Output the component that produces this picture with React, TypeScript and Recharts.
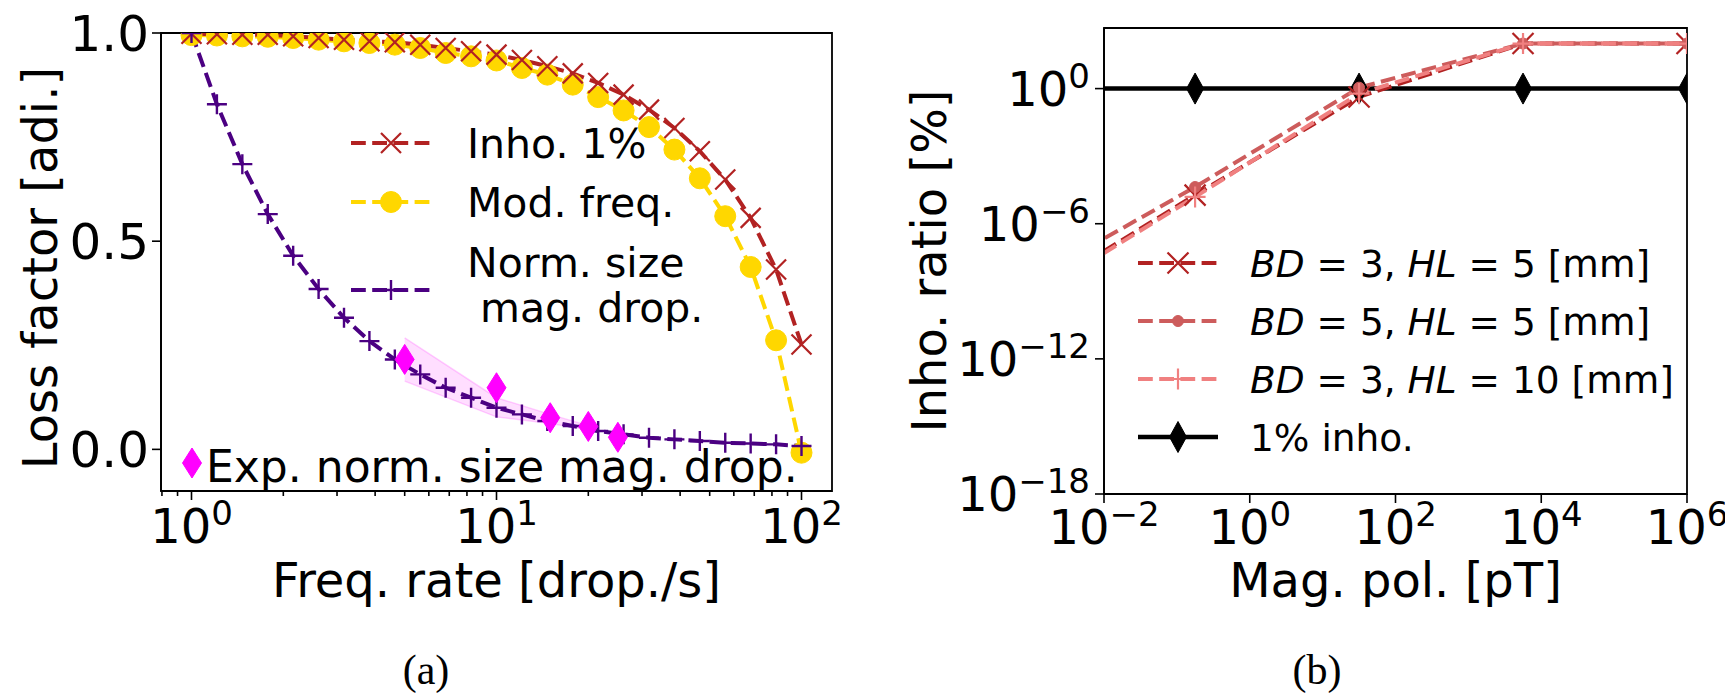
import React from "react";
import { ComposedChart, Line, Area, XAxis, YAxis, ReferenceArea } from "recharts";

// ---- (a) loss factor vs. frequency rate ----
const freqRate = [
  1, 1.2115, 1.4678, 1.7783, 2.1544, 2.6102, 3.1623, 3.8312, 4.6416, 5.6234,
  6.8129, 8.254, 10, 12.115, 14.678, 17.783, 21.544, 26.102, 31.623, 38.312,
  46.416, 56.234, 68.129, 82.54, 100,
];
const inhoLoss = [
  0.998, 0.997, 0.996, 0.996, 0.992, 0.988, 0.984, 0.98, 0.978, 0.972, 0.964,
  0.956, 0.948, 0.935, 0.92, 0.903, 0.88, 0.852, 0.816, 0.772, 0.716, 0.648,
  0.556, 0.432, 0.252,
];
const modFreqLoss = [
  0.995, 0.994, 0.992, 0.991, 0.988, 0.984, 0.98, 0.976, 0.972, 0.964, 0.952,
  0.944, 0.934, 0.916, 0.9, 0.876, 0.846, 0.814, 0.774, 0.72, 0.651, 0.56,
  0.438, 0.262, -0.008,
];
const normSizeLoss = [
  1.0, 0.829, 0.685, 0.565, 0.465, 0.385, 0.316, 0.26, 0.216, 0.18, 0.148,
  0.124, 0.1, 0.084, 0.068, 0.056, 0.044, 0.036, 0.028, 0.024, 0.02, 0.016,
  0.014, 0.012, 0.008,
];
const expRate = [5, 10, 15, 20, 25];
const expLoss = [0.216, 0.148, 0.076, 0.055, 0.029];
const bandRate = [5, 10, 15, 20];
const bandLow = [0.164, 0.078, 0.062, 0.047];
const bandHigh = [0.268, 0.124, 0.084, 0.057];

const lossTicks = [0, 0.5, 1];
const freqMajor = [1, 10, 100];
const freqMinor = [0.8, 0.9, 2, 3, 4, 5, 6, 7, 8, 9, 20, 30, 40, 50, 60, 70, 80, 90];

// ---- (b) inhomogeneity ratio vs. magnetic polarisation ----
const magPol = [0.001, 0.1778, 31.62, 5623, 1000000];
const ratioBd3Hl5 = [6.3e-10, 1.86e-5, 0.427, 100, 100];
const ratioBd5Hl5 = [3.2e-9, 4.27e-5, 1.1, 100, 100];
const ratioBd3Hl10 = [5.0e-10, 1.55e-5, 0.6, 100, 100];
const onePercentInho = [1, 1, 1, 1, 1];

const magTicks = [1e-2, 1, 1e2, 1e4, 1e6];
const ratioTicks = [1e-18, 1e-12, 1e-6, 1];

const FONT = "DejaVu Sans, Noto Sans, sans-serif";
const DASH = "14.8 6.4";

const pts = (xs: number[], ys: number[]) => xs.map((x, i) => ({ x, y: ys[i] }));

// marker shapes
function xMark(cx: number, cy: number, s: number, color: string, sw: number, key?: any) {
  const h = s / 2;
  return (
    <path key={key} d={`M${cx - h},${cy - h}L${cx + h},${cy + h}M${cx - h},${cy + h}L${cx + h},${cy - h}`}
      stroke={color} strokeWidth={sw} fill="none" />
  );
}
function plusMark(cx: number, cy: number, s: number, color: string, sw: number, key?: any) {
  const h = s / 2;
  return (
    <path key={key} d={`M${cx - h},${cy}L${cx + h},${cy}M${cx},${cy - h}L${cx},${cy + h}`}
      stroke={color} strokeWidth={sw} fill="none" />
  );
}
function dotMark(cx: number, cy: number, r: number, color: string, key?: any) {
  return <circle key={key} cx={cx} cy={cy} r={r} fill={color} stroke={color} />;
}
function diamondMark(cx: number, cy: number, w: number, h: number, color: string, key?: any) {
  return (
    <path key={key} d={`M${cx},${cy - h / 2}L${cx + w / 2},${cy}L${cx},${cy + h / 2}L${cx - w / 2},${cy}Z`}
      fill={color} stroke={color} strokeWidth={1} />
  );
}

const dots = (draw: (cx: number, cy: number, key: any) => React.ReactElement) => (p: any) => {
  if (p.cx == null || p.cy == null || isNaN(p.cx) || isNaN(p.cy)) return <g key={`e-${p.index}`} />;
  return draw(p.cx, p.cy, `d-${p.index}`);
};

function PowerLabel({ x, y, exp, anchor }: { x: number; y: number; exp: number; anchor: "middle" | "end" }) {
  const e = exp < 0 ? `\u2212${-exp}` : `${exp}`;
  return (
    <text x={x} y={y} textAnchor={anchor} fontFamily={FONT} fontSize={48} fill="#000">
      <tspan>10</tspan>
      <tspan dy={-18} fontSize={34}>{e}</tspan>
    </text>
  );
}

function FreqTick(props: any) {
  const { x, y, payload } = props;
  const v = payload.value;
  const major = freqMajor.includes(v);
  return (
    <g>
      <line x1={x} x2={x} y1={y} y2={y + (major ? 9 : 5)} stroke="#000" strokeWidth={1.6} />
      {major && <PowerLabel x={x} y={y + 52} exp={Math.round(Math.log10(v))} anchor="middle" />}
    </g>
  );
}

function LossTick(props: any) {
  const { x, y, payload } = props;
  return (
    <g>
      <line x1={x} x2={x - 9} y1={y} y2={y} stroke="#000" strokeWidth={1.6} />
      <text x={x - 12} y={y + 18} textAnchor="end" fontFamily={FONT} fontSize={50} fill="#000">
        {payload.value.toFixed(1)}
      </text>
    </g>
  );
}

function MagTick(props: any) {
  const { x, y, payload } = props;
  return (
    <g>
      <line x1={x} x2={x} y1={y} y2={y + 9} stroke="#000" strokeWidth={1.6} />
      <PowerLabel x={x} y={y + 50} exp={Math.round(Math.log10(payload.value))} anchor="middle" />
    </g>
  );
}

function RatioTick(props: any) {
  const { x, y, payload } = props;
  return (
    <g>
      <line x1={x} x2={x - 9} y1={y} y2={y} stroke="#000" strokeWidth={1.6} />
      <PowerLabel x={x - 14} y={y + 17} exp={Math.round(Math.log10(payload.value))} anchor="end" />
    </g>
  );
}

const spine = { stroke: "#000", strokeWidth: 1.8 };

function LegendSample({ x, y, color, dash, marker }: { x: number; y: number; color: string; dash?: string; marker: React.ReactNode }) {
  return (
    <g>
      <line x1={x} x2={x + 80} y1={y} y2={y} stroke={color} strokeWidth={4} strokeDasharray={dash} />
      {marker}
    </g>
  );
}

const freqDomain = [Math.pow(10, -0.1), Math.pow(10, 2.1)];
const lossDomain = [-0.1, 1.0];
const magDomain = [1e-2, 1e6];
const ratioDomain = [1e-18, 490];

function PanelA() {
  const band = bandRate.map((x, i) => ({ x, range: [bandLow[i], bandHigh[i]] }));
  return (
    <ComposedChart width={860} height={600} margin={{ top: 33, right: 28, left: 0, bottom: 0 }}>
      <XAxis dataKey="x" type="number" scale="log" domain={freqDomain} allowDataOverflow
        ticks={[...freqMajor, ...freqMinor]} interval={0} height={109}
        tickSize={0} tickMargin={0} tickLine={false} tick={<FreqTick />} axisLine={spine} />
      <YAxis type="number" domain={lossDomain} allowDataOverflow ticks={lossTicks} interval={0}
        width={161} tickSize={0} tickMargin={0} tickLine={false} tick={<LossTick />} axisLine={spine} />
      <ReferenceArea x1={freqDomain[0]} x2={freqDomain[1]} y1={lossDomain[0]} y2={lossDomain[1]}
        fill="none" stroke="#000" strokeWidth={1.8} ifOverflow="visible" />
      <Line data={pts(freqRate, modFreqLoss)} dataKey="y" type="linear" stroke="#ffd700" strokeWidth={4}
        strokeDasharray={DASH} isAnimationActive={false} activeDot={false}
        dot={dots((cx, cy, k) => dotMark(cx, cy, 10.5, "#ffd700", k))} />
      <Line data={pts(freqRate, inhoLoss)} dataKey="y" type="linear" stroke="#b22222" strokeWidth={4}
        strokeDasharray={DASH} isAnimationActive={false} activeDot={false}
        dot={dots((cx, cy, k) => xMark(cx, cy, 20, "#b22222", 2.2, k))} />
      <Area data={band} dataKey="range" type="linear" fill="#ff00ff" fillOpacity={0.13}
        stroke="#ff00ff" strokeOpacity={0.18} strokeWidth={1.5} isAnimationActive={false} activeDot={false} />
      <Line data={pts(freqRate, normSizeLoss)} dataKey="y" type="linear" stroke="#4b0082" strokeWidth={4}
        strokeDasharray={DASH} isAnimationActive={false} activeDot={false}
        dot={dots((cx, cy, k) => plusMark(cx, cy, 20, "#4b0082", 2.4, k))} />
      <Line data={pts(expRate, expLoss)} dataKey="y" type="linear" stroke="none" isAnimationActive={false}
        activeDot={false} dot={dots((cx, cy, k) => diamondMark(cx, cy, 19, 30, "#ff00ff", k))} />
    </ComposedChart>
  );
}

function PanelB() {
  return (
    <ComposedChart width={825} height={600} margin={{ top: 28, right: 38, left: 0, bottom: 0 }}>
      <XAxis dataKey="x" type="number" scale="log" domain={magDomain} allowDataOverflow
        ticks={magTicks} interval={0} height={106} tickSize={0} tickMargin={0} tickLine={false}
        tick={<MagTick />} axisLine={spine} />
      <YAxis type="number" scale="log" domain={ratioDomain} allowDataOverflow ticks={ratioTicks}
        interval={0} width={204} tickSize={0} tickMargin={0} tickLine={false} tick={<RatioTick />}
        axisLine={spine} />
      <ReferenceArea x1={magDomain[0]} x2={magDomain[1]} y1={ratioDomain[0]} y2={ratioDomain[1]}
        fill="none" stroke="#000" strokeWidth={1.8} ifOverflow="visible" />
      <Line data={pts(magPol, onePercentInho)} dataKey="y" type="linear" stroke="#000" strokeWidth={4.5}
        isAnimationActive={false} activeDot={false}
        dot={dots((cx, cy, k) => diamondMark(cx, cy, 17, 31, "#000", k))} />
      <Line data={pts(magPol, ratioBd3Hl5)} dataKey="y" type="linear" stroke="#b22222" strokeWidth={4}
        strokeDasharray={DASH} isAnimationActive={false} activeDot={false}
        dot={dots((cx, cy, k) => xMark(cx, cy, 21, "#b22222", 2.2, k))} />
      <Line data={pts(magPol, ratioBd5Hl5)} dataKey="y" type="linear" stroke="#cd5c5c" strokeWidth={4}
        strokeDasharray={DASH} isAnimationActive={false} activeDot={false}
        dot={dots((cx, cy, k) => dotMark(cx, cy, 5.5, "#cd5c5c", k))} />
      <Line data={pts(magPol, ratioBd3Hl10)} dataKey="y" type="linear" stroke="#f08080" strokeWidth={4}
        strokeDasharray={DASH} isAnimationActive={false} activeDot={false}
        dot={dots((cx, cy, k) => plusMark(cx, cy, 21, "#f08080", 2.2, k))} />
    </ComposedChart>
  );
}

function Overlay() {
  const mi = { fontStyle: "italic" as const };
  const bRows = [
    { y: 263, color: "#b22222", mk: xMark(1178, 263, 21, "#b22222", 2.2), bd: "3", hl: "5" },
    { y: 321, color: "#cd5c5c", mk: dotMark(1178, 321, 5.5, "#cd5c5c"), bd: "5", hl: "5" },
    { y: 379, color: "#f08080", mk: plusMark(1178, 379, 21, "#f08080", 2.2), bd: "3", hl: "10" },
  ];
  return (
    <svg width={1725} height={695} style={{ position: "absolute", left: 0, top: 0, pointerEvents: "none" }}
      fontFamily={FONT} fill="#000">
      {/* axis labels */}
      <text transform="translate(57,268) rotate(-90)" textAnchor="middle" fontSize={48}>Loss factor [adi.]</text>
      <text x={496.5} y={597} textAnchor="middle" fontSize={48}>Freq. rate [drop./s]</text>
      <text transform="translate(946,261) rotate(-90)" textAnchor="middle" fontSize={48}>Inho. ratio [%]</text>
      <text x={1395.5} y={597} textAnchor="middle" fontSize={48}>Mag. pol. [pT]</text>

      {/* legend (a) */}
      <LegendSample x={351} y={143} color="#b22222" dash={DASH} marker={xMark(391, 143, 20, "#b22222", 2.2)} />
      <text x={467} y={158} fontSize={41}>Inho. 1%</text>
      <LegendSample x={351} y={202} color="#ffd700" dash={DASH} marker={dotMark(391, 202, 10.5, "#ffd700")} />
      <text x={467} y={217} fontSize={41}>Mod. freq.</text>
      <LegendSample x={351} y={290} color="#4b0082" dash={DASH} marker={plusMark(391, 290, 20, "#4b0082", 2.4)} />
      <text x={467} y={277} fontSize={41}>Norm. size</text>
      <text x={480} y={322} fontSize={41}>mag. drop.</text>
      {diamondMark(192, 463, 19, 30, "#ff00ff")}
      <text x={206} y={482} fontSize={44}>Exp. norm. size mag. drop.</text>

      {/* legend (b) */}
      {bRows.map((r) => (
        <g key={r.y}>
          <LegendSample x={1138} y={r.y} color={r.color} dash={DASH} marker={r.mk} />
          <text x={1250} y={r.y + 13.5} fontSize={37.5}>
            <tspan style={mi}>BD</tspan> = {r.bd}, <tspan style={mi}>HL</tspan> = {r.hl} [mm]
          </text>
        </g>
      ))}
      <line x1={1138} x2={1218} y1={437} y2={437} stroke="#000" strokeWidth={4.5} />
      {diamondMark(1178, 437, 17, 31, "#000")}
      <text x={1250} y={450.5} fontSize={37.5}>1% inho.</text>

      {/* sub-captions */}
      <text x={426} y={684} textAnchor="middle" fontSize={42} fontFamily="Liberation Serif, DejaVu Serif, serif">(a)</text>
      <text x={1317} y={684} textAnchor="middle" fontSize={42} fontFamily="Liberation Serif, DejaVu Serif, serif">(b)</text>
    </svg>
  );
}

export default function App() {
  return (
    <div style={{ position: "absolute", left: 0, top: 0, width: 1725, height: 695, background: "#fff" }}>
      <div style={{ position: "absolute", left: 0, top: 0 }}>
        <PanelA />
      </div>
      <div style={{ position: "absolute", left: 900, top: 0 }}>
        <PanelB />
      </div>
      <Overlay />
    </div>
  );
}
